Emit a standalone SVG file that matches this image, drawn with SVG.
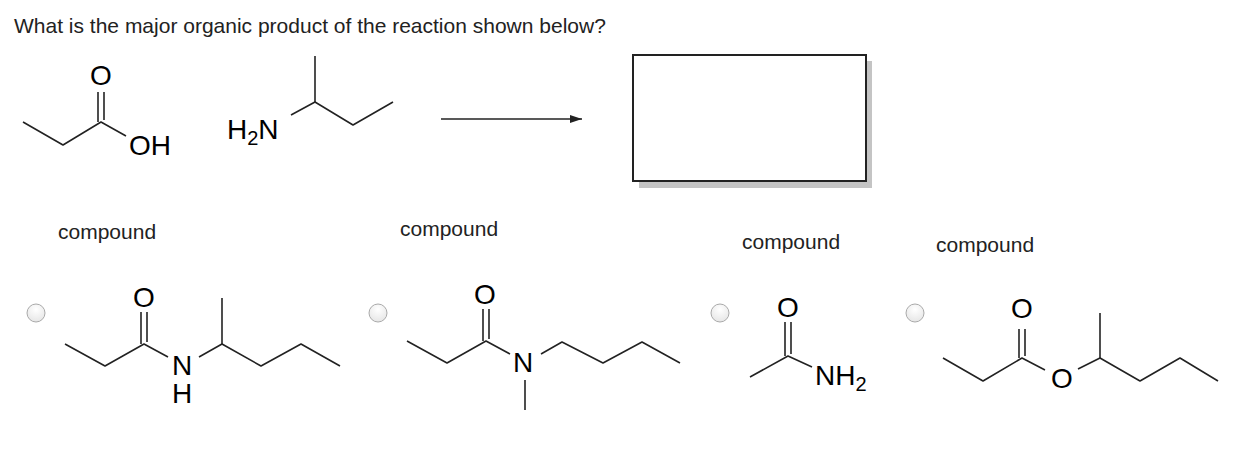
<svg xmlns="http://www.w3.org/2000/svg" width="1260" height="466" viewBox="0 0 1260 466">
<style>
.t{font-family:"Liberation Sans",Arial,sans-serif;fill:#222}
.q{font-size:21px}
.c{font-size:21px}
.a{font-size:28px;fill:#000;text-anchor:middle}
.b{stroke:#222;stroke-width:1.6;fill:none;stroke-linejoin:round}
.r{fill:url(#g);stroke:#aaa;stroke-width:1}
</style>
<defs>
<radialGradient id="g" cx="50%" cy="30%" r="70%"><stop offset="0" stop-color="#fff"/><stop offset="1" stop-color="#e6e6e6"/></radialGradient>
<marker id="ah" viewBox="0 0 12 8" refX="12" refY="4" markerWidth="12" markerHeight="8" markerUnits="userSpaceOnUse" orient="auto"><path d="M0,0L12,4L0,8z" fill="#222"/></marker>
</defs>
<rect width="1260" height="466" fill="#fff"/>
<text class="t q" x="14" y="33">What is the major organic product of the reaction shown below?</text>

<g id="acid">
<polyline class="b" points="23,122 63,145 101,122 126,136"/>
<line class="b" x1="98" y1="92" x2="98" y2="122"/><line class="b" x1="104" y1="92" x2="104" y2="120"/>
<text class="t a" x="101" y="85">O</text>
<text class="t a" x="150" y="155">OH</text>
</g>
<g id="amine">
<polyline class="b" points="291,115 315,102 353,125 393,102"/>
<line class="b" x1="315" y1="56" x2="315" y2="102"/>
<text class="t a" x="227" y="139" style="text-anchor:start">H<tspan font-size="20" dy="6">2</tspan><tspan dy="-6">N</tspan></text>
</g>
<g id="connectors">
<line class="b" x1="441" y1="119" x2="582" y2="119" marker-end="url(#ah)"/>
</g>
<g id="answerbox">
<rect x="639" y="61" width="233" height="127" fill="#c4c4c4"/>
<rect x="633" y="55" width="233" height="126" fill="#fff" stroke="#222" stroke-width="2"/>
</g>

<g id="optA">
<text class="t c" x="58" y="239">compound</text>
<circle class="r" cx="36" cy="313" r="9"/>
<polyline class="b" points="65,344 105,366 144,344 168,357"/>
<line class="b" x1="141" y1="312" x2="141" y2="344"/><line class="b" x1="147" y1="312" x2="147" y2="342"/>
<text class="t a" x="144" y="307">O</text>
<text class="t a" x="182" y="375">N</text>
<text class="t a" x="182" y="403">H</text>
<polyline class="b" points="199,357 222,344 261,366 301,344 340,366"/>
<line class="b" x1="222" y1="298" x2="222" y2="344"/>
</g>

<g id="optB">
<text class="t c" x="400" y="236">compound</text>
<circle class="r" cx="378" cy="313" r="9"/>
<polyline class="b" points="407,341 447,363 486,341 510,354"/>
<line class="b" x1="483" y1="309" x2="483" y2="341"/><line class="b" x1="489" y1="309" x2="489" y2="339"/>
<text class="t a" x="485" y="304">O</text>
<text class="t a" x="523" y="372">N</text>
<line class="b" x1="525" y1="380" x2="525" y2="410"/>
<polyline class="b" points="541,354 562,342 603,363 642,342 680,363"/>
</g>

<g id="optC">
<text class="t c" x="742" y="249">compound</text>
<circle class="r" cx="720" cy="313" r="9"/>
<polyline class="b" points="750,377 788,356 812,367"/>
<line class="b" x1="785" y1="322" x2="785" y2="356"/><line class="b" x1="791" y1="322" x2="791" y2="354"/>
<text class="t a" x="788" y="317">O</text>
<text class="t a" x="815" y="385" style="text-anchor:start">NH<tspan font-size="20" dy="6">2</tspan></text>
</g>

<g id="optD">
<text class="t c" x="936" y="252">compound</text>
<circle class="r" cx="915" cy="313" r="9"/>
<polyline class="b" points="943,358 983,381 1022,358 1045,370"/>
<line class="b" x1="1019" y1="329" x2="1019" y2="358"/><line class="b" x1="1025" y1="329" x2="1025" y2="356"/>
<text class="t a" x="1022" y="318">O</text>
<text class="t a" x="1062" y="388">O</text>
<polyline class="b" points="1078,369 1100,358 1140,381 1180,358 1218,381"/>
<line class="b" x1="1100" y1="313" x2="1100" y2="358"/>
</g>
</svg>
